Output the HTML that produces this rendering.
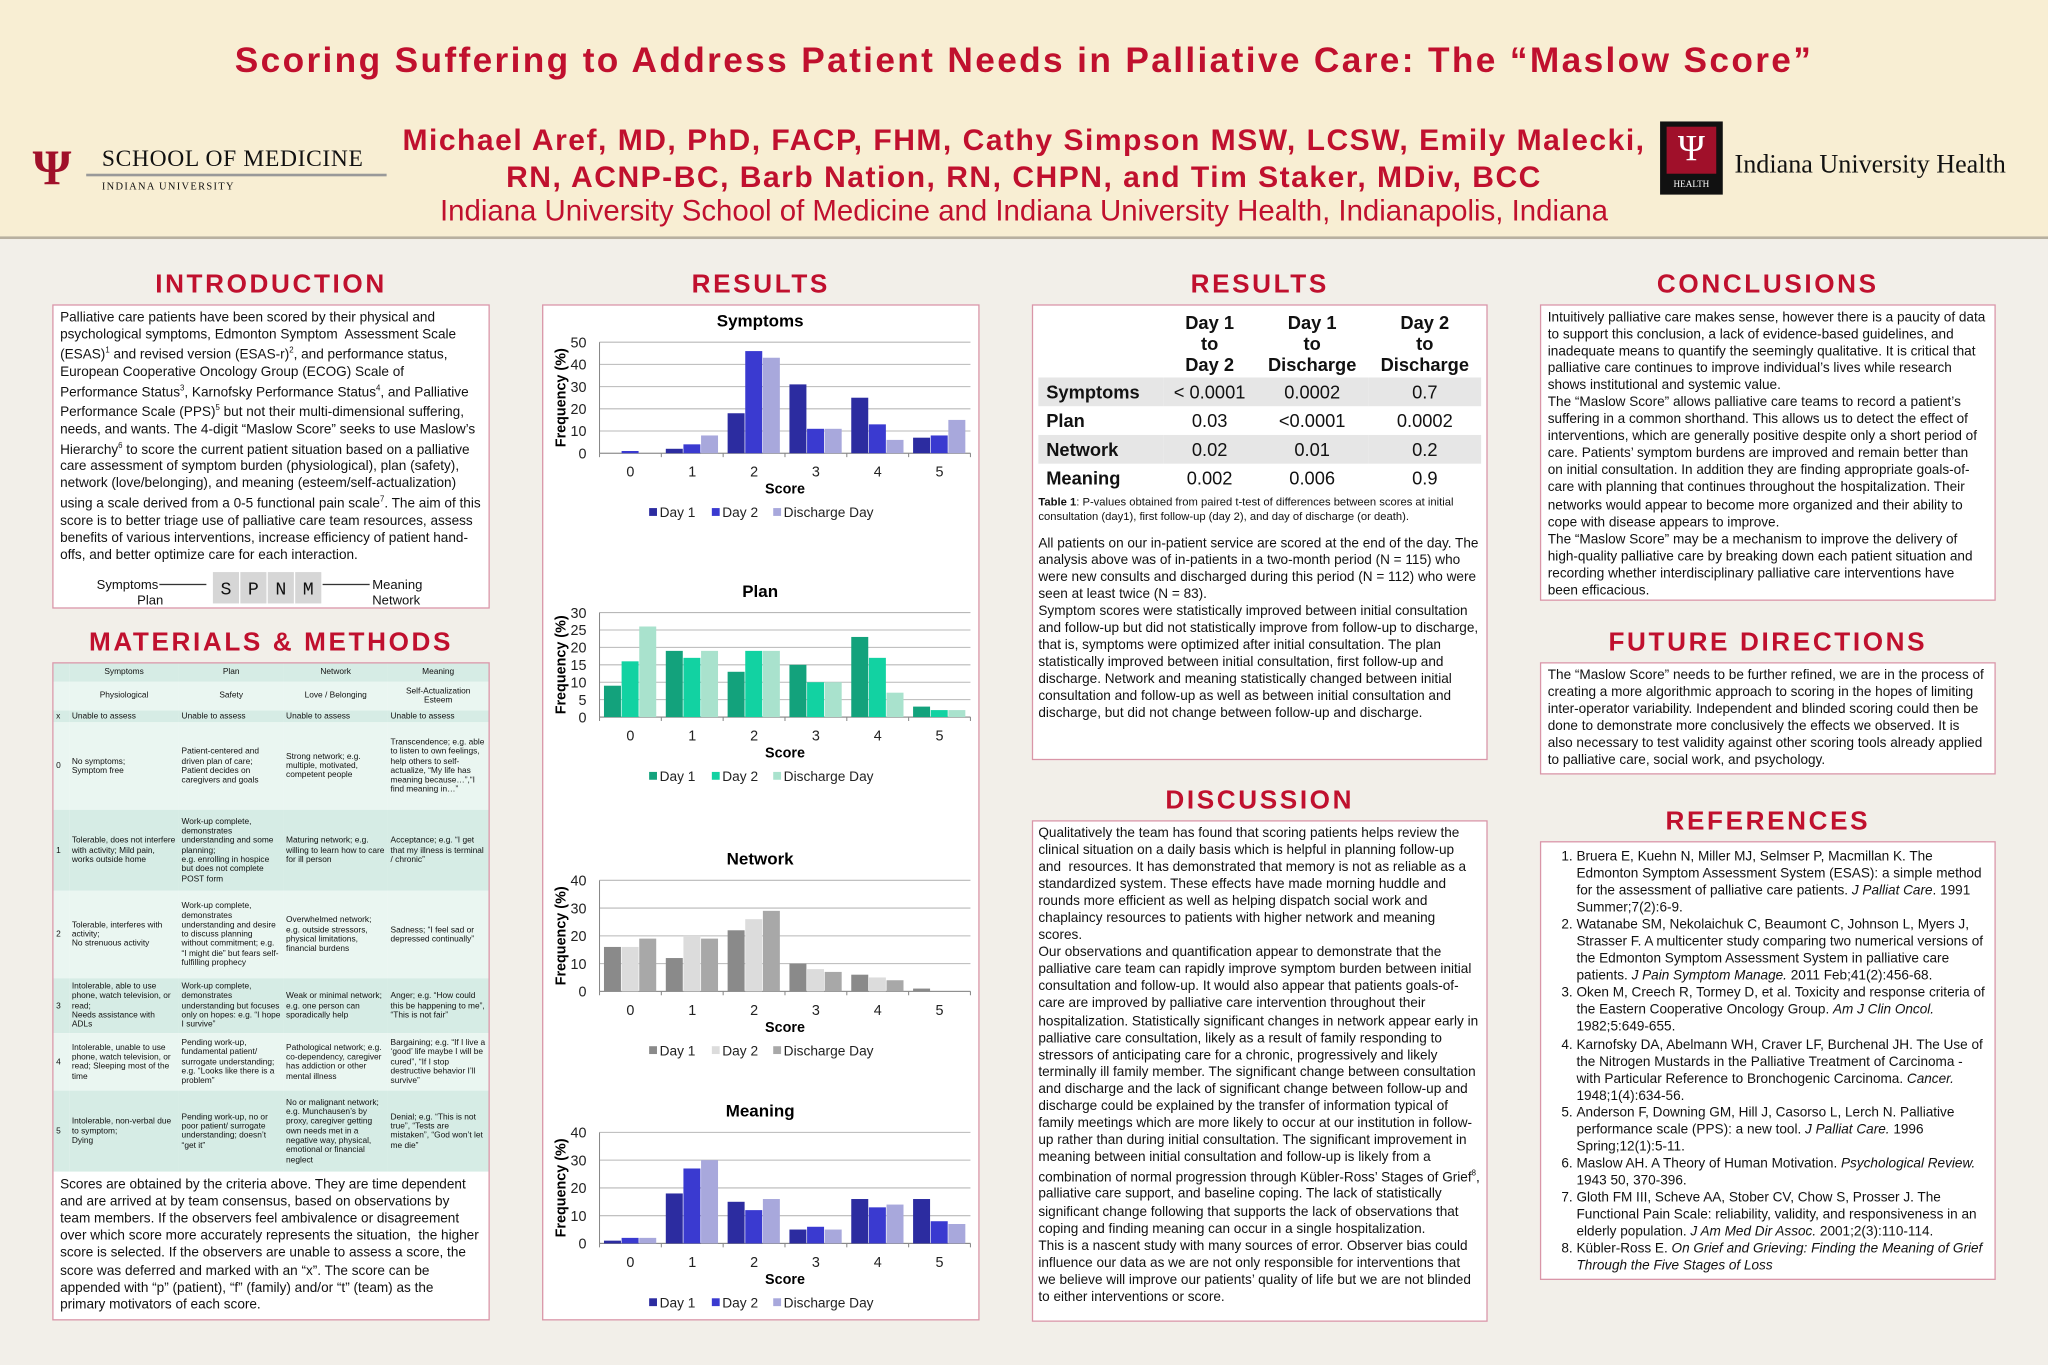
<!DOCTYPE html>
<html><head><meta charset="utf-8">
<style>
html,body{margin:0;padding:0;width:2048px;height:1365px;overflow:hidden;background:#f2efe9;}
#poster{position:absolute;left:0;top:0;width:1568px;height:1045px;transform:scale(1.30612);transform-origin:0 0;font-family:"Liberation Sans",sans-serif;color:#111;}
.abs{position:absolute;}
#header{left:0;top:0;width:1568px;height:181px;background:#f8eed3;border-bottom:2px solid #b8b0a0;}
.title{left:0;width:1568px;text-align:center;color:#c0102e;}
h2{position:absolute;margin:0;color:#c0102e;font-size:20px;letter-spacing:2px;font-weight:bold;text-align:center;}
.box{position:absolute;background:#fff;border:1px solid #d996a8;box-sizing:border-box;}
.txt{font-size:10.4px;line-height:13.05px;padding:3px 6px 3px 5px;}
table.mm{border-collapse:collapse;font-size:6.4px;line-height:7.3px;width:333px;}
table.mm td{padding:1px 2px;vertical-align:middle;}
table.mm tr.a{background:#d6ece5;} table.mm tr.b{background:#eaf6f1;}
table.pv{border-collapse:collapse;font-size:14px;width:339px;}
table.pv td{padding:0 2px;height:22px;text-align:center;}
table.pv td.l{text-align:left;font-weight:bold;padding-left:6px;}
table.pv tr.g{background:#e6e6e6;}
ol{margin:0;padding-left:22px;} li{margin:0;}
</style></head>
<body>
<div id="poster">
<div id="header" class="abs"></div>
<div class="abs title" style="top:31px;font-size:27px;font-weight:bold;letter-spacing:1.8px;">Scoring Suffering to Address Patient Needs in Palliative Care: The “Maslow Score”</div>
<div class="abs title" style="top:93px;font-size:23px;font-weight:bold;line-height:28px;letter-spacing:1.15px;">Michael Aref, MD, PhD, FACP, FHM, Cathy Simpson MSW, LCSW, Emily Malecki,<br>RN, ACNP-BC, Barb Nation, RN, CHPN, and Tim Staker, MDiv, BCC</div>
<div class="abs title" style="top:149px;font-size:22.5px;">Indiana University School of Medicine and Indiana University Health, Indianapolis, Indiana</div>
<!-- left logo -->
<div class="abs" style="left:25px;top:110px;width:275px;height:40px;">
 <div class="abs" style="left:0;top:0;font-family:'Liberation Serif',serif;font-size:38px;font-weight:bold;color:#a0102a;line-height:38px;">Ψ</div>
 <div class="abs" style="left:53px;top:1px;font-family:'Liberation Serif',serif;font-size:18px;letter-spacing:0.5px;">SCHOOL OF MEDICINE</div>
 <div class="abs" style="left:41px;top:23px;width:230px;border-top:2px solid #999;"></div>
 <div class="abs" style="left:53px;top:28px;font-family:'Liberation Serif',serif;font-size:8px;letter-spacing:1px;">INDIANA UNIVERSITY</div>
</div>
<!-- right logo -->
<div class="abs" style="left:1271px;top:93px;width:48px;height:56px;background:#111;">
 <div class="abs" style="left:5px;top:4px;width:38px;height:36px;background:#a0102a;color:#fff;font-family:'Liberation Serif',serif;font-size:28px;text-align:center;line-height:36px;">Ψ</div>
 <div class="abs" style="left:0;top:44px;width:48px;color:#fff;font-size:7px;text-align:center;font-family:'Liberation Serif',serif;">HEALTH</div>
</div>
<div class="abs" style="left:1328px;top:115px;font-family:'Liberation Serif',serif;font-size:20px;">Indiana University Health</div>

<!-- Column 1 -->
<h2 style="left:40px;width:335px;top:207px;">INTRODUCTION</h2>
<div class="box txt" style="left:40px;top:233px;width:335px;height:233px;">Palliative care patients have been scored by their physical and psychological symptoms, Edmonton Symptom&nbsp; Assessment Scale (ESAS)<sup style="font-size:6px">1</sup> and revised version (ESAS-r)<sup style="font-size:6px">2</sup>, and performance status, European Cooperative Oncology Group (ECOG) Scale of Performance Status<sup style="font-size:6px">3</sup>, Karnofsky Performance Status<sup style="font-size:6px">4</sup>, and Palliative Performance Scale (PPS)<sup style="font-size:6px">5</sup> but not their multi-dimensional suffering, needs, and wants. The 4-digit “Maslow Score” seeks to use Maslow’s Hierarchy<sup style="font-size:6px">6</sup> to score the current patient situation based on a palliative care assessment of symptom burden (physiological), plan (safety), network (love/belonging), and meaning (esteem/self-actualization) using a scale derived from a 0-5 functional pain scale<sup style="font-size:6px">7</sup>. The aim of this score is to better triage use of palliative care team resources, assess benefits of various interventions, increase efficiency of patient hand-offs, and better optimize care for each interaction.
 <div class="abs" style="left:0;top:202px;width:333px;height:28px;font-size:10px;">
  <div class="abs" style="left:33px;top:6px;">Symptoms</div><div class="abs" style="left:64px;top:18px;">Plan</div>
  <div class="abs" style="left:244px;top:6px;">Meaning</div><div class="abs" style="left:244px;top:18px;">Network</div>
  <div class="abs" style="left:81px;top:11px;width:36px;border-top:1px solid #333;"></div>
  <div class="abs" style="left:206px;top:11px;width:36px;border-top:1px solid #333;"></div>
  <div class="abs" style="left:122px;top:2px;width:20px;height:24px;background:#d6d6d6;font-size:14px;text-align:center;line-height:28px;font-family:'Liberation Mono',monospace;">S</div>
  <div class="abs" style="left:143px;top:2px;width:20px;height:24px;background:#d6d6d6;font-size:14px;text-align:center;line-height:28px;font-family:'Liberation Mono',monospace;">P</div>
  <div class="abs" style="left:164px;top:2px;width:20px;height:24px;background:#d6d6d6;font-size:14px;text-align:center;line-height:28px;font-family:'Liberation Mono',monospace;">N</div>
  <div class="abs" style="left:185px;top:2px;width:20px;height:24px;background:#d6d6d6;font-size:14px;text-align:center;line-height:28px;font-family:'Liberation Mono',monospace;">M</div>
 </div>
</div>
<h2 style="left:40px;width:335px;top:481px;">MATERIALS &amp; METHODS</h2>
<div class="box" style="left:40px;top:507px;width:335px;height:504px;">
<table class="mm">
<tr class="a" style="height:14px;text-align:center"><td style="width:8px"></td><td style="width:80px">Symptoms</td><td style="width:76px">Plan</td><td style="width:76px">Network</td><td>Meaning</td></tr>
<tr class="b" style="height:22px;text-align:center"><td></td><td>Physiological</td><td>Safety</td><td>Love / Belonging</td><td>Self-Actualization<br>Esteem</td></tr>
<tr class="a" style="height:9px"><td>x</td><td>Unable to assess</td><td>Unable to assess</td><td>Unable to assess</td><td>Unable to assess</td></tr>
<tr class="b" style="height:67px"><td>0</td><td>No symptoms;<br>Symptom free</td><td>Patient-centered and driven plan of care; Patient decides on caregivers and goals</td><td>Strong network; e.g. multiple, motivated, competent people</td><td>Transcendence; e.g. able to listen to own feelings, help others to self-actualize, “My life has meaning because…”,“I find meaning in…”</td></tr>
<tr class="a" style="height:62px"><td>1</td><td>Tolerable, does not interfere with activity; Mild pain, works outside home</td><td>Work-up complete, demonstrates understanding and some planning;<br>e.g. enrolling in hospice but does not complete POST form</td><td>Maturing network; e.g. willing to learn how to care for ill person</td><td>Acceptance; e.g. “I get that my illness is terminal / chronic”</td></tr>
<tr class="b" style="height:67px"><td>2</td><td>Tolerable, interferes with activity;<br>No strenuous activity</td><td>Work-up complete, demonstrates understanding and desire to discuss planning without commitment; e.g. “I might die” but fears self-fulfilling prophecy</td><td>Overwhelmed network; e.g. outside stressors, physical limitations, financial burdens</td><td>Sadness; “I feel sad or depressed continually”</td></tr>
<tr class="a" style="height:42px"><td>3</td><td>Intolerable, able to use phone, watch television, or read;<br>Needs assistance with ADLs</td><td>Work-up complete, demonstrates understanding but focuses only on hopes: e.g. “I hope I survive”</td><td>Weak or minimal network; e.g. one person can sporadically help</td><td>Anger; e.g. “How could this be happening to me”, “This is not fair”</td></tr>
<tr class="b" style="height:44px"><td>4</td><td>Intolerable, unable to use phone, watch television, or read; Sleeping most of the time</td><td>Pending work-up, fundamental patient/ surrogate understanding; e.g. “Looks like there is a problem”</td><td>Pathological network; e.g. co-dependency, caregiver has addiction or other mental illness</td><td>Bargaining; e.g. “If I live a ‘good’ life maybe I will be cured”, “If I stop destructive behavior I’ll survive”</td></tr>
<tr class="a" style="height:62px"><td>5</td><td>Intolerable, non-verbal due to symptom;<br>Dying</td><td>Pending work-up, no or poor patient/ surrogate understanding; doesn’t “get it”</td><td>No or malignant network; e.g. Munchausen’s by proxy, caregiver getting own needs met in a negative way, physical, emotional or financial neglect</td><td>Denial; e.g. “This is not true”, “Tests are mistaken”, “God won’t let me die”</td></tr>
</table>
<div class="txt" style="padding-top:4px;">Scores are obtained by the criteria above. They are time dependent and are arrived at by team consensus, based on observations by team members. If the observers feel ambivalence or disagreement over which score more accurately represents the situation,&nbsp; the higher score is selected. If the observers are unable to assess a score, the score was deferred and marked with an “x”. The score can be appended with “p” (patient), “f” (family) and/or “t” (team) as the primary motivators of each score.</div>
</div>

<!-- Column 2 -->
<h2 style="left:415px;width:335px;top:207px;">RESULTS</h2>
<div class="box" style="left:415px;top:233px;width:335px;height:778px;"></div>
<svg class="abs" id="charts" style="left:0;top:0;" width="1568" height="1045"></svg>

<!-- Column 3 -->
<h2 style="left:790px;width:349px;top:207px;">RESULTS</h2>
<div class="box" style="left:790px;top:233px;width:349px;height:349px;">
<table class="pv" style="margin:3px 4px 0 4px;">
<tr style="font-weight:bold;line-height:16px;"><td style="height:52px"></td><td>Day 1<br>to<br>Day 2</td><td>Day 1<br>to<br>Discharge</td><td>Day 2<br>to<br>Discharge</td></tr>
<tr class="g"><td class="l">Symptoms</td><td>&lt; 0.0001</td><td>0.0002</td><td>0.7</td></tr>
<tr><td class="l">Plan</td><td>0.03</td><td>&lt;0.0001</td><td>0.0002</td></tr>
<tr class="g"><td class="l">Network</td><td>0.02</td><td>0.01</td><td>0.2</td></tr>
<tr><td class="l">Meaning</td><td>0.002</td><td>0.006</td><td>0.9</td></tr>
</table>
<div style="font-size:8.6px;line-height:10.5px;padding:2px 4px 0 4px;"><b>Table 1</b>: P-values obtained from paired t-test of differences between scores at initial consultation (day1), first follow-up (day 2), and day of discharge (or death).</div>
<div class="txt" style="padding:10px 4px 3px 4px;">All patients on our in-patient service are scored at the end of the day. The analysis above was of in-patients in a two-month period (N = 115) who were new consults and discharged during this period (N = 112) who were seen at least twice (N = 83).<br>Symptom scores were statistically improved between initial consultation and follow-up but did not statistically improve from follow-up to discharge, that is, symptoms were optimized after initial consultation. The plan statistically improved between initial consultation, first follow-up and discharge. Network and meaning statistically changed between initial consultation and follow-up as well as between initial consultation and discharge, but did not change between follow-up and discharge.</div>
</div>
<h2 style="left:790px;width:349px;top:602px;">DISCUSSION</h2>
<div class="box txt" style="left:790px;top:628px;width:349px;height:384px;padding:3px 4px;">Qualitatively the team has found that scoring patients helps review the clinical situation on a daily basis which is helpful in planning follow-up and&nbsp; resources. It has demonstrated that memory is not as reliable as a standardized system. These effects have made morning huddle and rounds more efficient as well as helping dispatch social work and chaplaincy resources to patients with higher network and meaning scores.<br>Our observations and quantification appear to demonstrate that the palliative care team can rapidly improve symptom burden between initial consultation and follow-up. It would also appear that patients goals-of-care are improved by palliative care intervention throughout their hospitalization. Statistically significant changes in network appear early in palliative care consultation, likely as a result of family responding to stressors of anticipating care for a chronic, progressively and likely terminally ill family member. The significant change between consultation and discharge and the lack of significant change between follow-up and discharge could be explained by the transfer of information typical of family meetings which are more likely to occur at our institution in follow-up rather than during initial consultation. The significant improvement in meaning between initial consultation and follow-up is likely from a combination of normal progression through Kübler-Ross’ Stages of Grief<sup style="font-size:6px">8</sup>, palliative care support, and baseline coping. The lack of statistically significant change following that supports the lack of observations that coping and finding meaning can occur in a single hospitalization.<br>This is a nascent study with many sources of error. Observer bias could influence our data as we are not only responsible for interventions that we believe will improve our patients’ quality of life but we are not blinded to either interventions or score.</div>

<!-- Column 4 -->
<h2 style="left:1179px;width:349px;top:207px;">CONCLUSIONS</h2>
<div class="box txt" style="left:1179px;top:233px;width:349px;height:227px;">Intuitively palliative care makes sense, however there is a paucity of data to support this conclusion, a lack of evidence-based guidelines, and inadequate means to quantify the seemingly qualitative. It is critical that palliative care continues to improve individual’s lives while research shows institutional and systemic value.<br>The “Maslow Score” allows palliative care teams to record a patient’s suffering in a common shorthand. This allows us to detect the effect of interventions, which are generally positive despite only a short period of care. Patients’ symptom burdens are improved and remain better than on initial consultation. In addition they are finding appropriate goals-of-care with planning that continues throughout the hospitalization. Their networks would appear to become more organized and their ability to cope with disease appears to improve.<br>The “Maslow Score” may be a mechanism to improve the delivery of high-quality palliative care by breaking down each patient situation and recording whether interdisciplinary palliative care interventions have been efficacious.</div>
<h2 style="left:1179px;width:349px;top:481px;">FUTURE DIRECTIONS</h2>
<div class="box txt" style="left:1179px;top:507px;width:349px;height:86px;">The “Maslow Score” needs to be further refined, we are in the process of creating a more algorithmic approach to scoring in the hopes of limiting inter-operator variability. Independent and blinded scoring could then be done to demonstrate more conclusively the effects we observed. It is also necessary to test validity against other scoring tools already applied to palliative care, social work, and psychology.</div>
<h2 style="left:1179px;width:349px;top:618px;">REFERENCES</h2>
<div class="box txt" style="left:1179px;top:644px;width:349px;height:336px;padding-top:5px;">
<ol>
<li>Bruera E, Kuehn N, Miller MJ, Selmser P, Macmillan K. The Edmonton Symptom Assessment System (ESAS): a simple method for the assessment of palliative care patients. <i>J Palliat Care</i>. 1991 Summer;7(2):6-9.</li>
<li>Watanabe SM, Nekolaichuk C, Beaumont C, Johnson L, Myers J, Strasser F. A multicenter study comparing two numerical versions of the Edmonton Symptom Assessment System in palliative care patients. <i>J Pain Symptom Manage.</i> 2011 Feb;41(2):456-68.</li>
<li>Oken M, Creech R, Tormey D, et al. Toxicity and response criteria of the Eastern Cooperative Oncology Group. <i>Am J Clin Oncol.</i> 1982;5:649-655.</li>
<li>Karnofsky DA, Abelmann WH, Craver LF, Burchenal JH. The Use of the Nitrogen Mustards in the Palliative Treatment of Carcinoma - with Particular Reference to Bronchogenic Carcinoma. <i>Cancer.</i> 1948;1(4):634-56.</li>
<li>Anderson F, Downing GM, Hill J, Casorso L, Lerch N. Palliative performance scale (PPS): a new tool. <i>J Palliat Care.</i> 1996 Spring;12(1):5-11.</li>
<li>Maslow AH. A Theory of Human Motivation. <i>Psychological Review.</i> 1943 50, 370-396.</li>
<li>Gloth FM III, Scheve AA, Stober CV, Chow S, Prosser J. The Functional Pain Scale: reliability, validity, and responsiveness in an elderly population. <i>J Am Med Dir Assoc.</i> 2001;2(3):110-114.</li>
<li>Kübler-Ross E. <i>On Grief and Grieving: Finding the Meaning of Grief Through the Five Stages of Loss</i></li>
</ol></div>
</div>

<script>
// ---- chart data ----
const scores = ["0","1","2","3","4","5"];
const seriesNames = ["Day 1","Day 2","Discharge Day"];
const symptomsDay1 = [0,2,18,31,25,7];
const symptomsDay2 = [1,4,46,11,13,8];
const symptomsDischarge = [0,8,43,11,6,15];
const planDay1 = [9,19,13,15,23,3];
const planDay2 = [16,17,19,10,17,2];
const planDischarge = [26,19,19,10,7,2];
const networkDay1 = [16,12,22,10,6,1];
const networkDay2 = [16,20,26,8,5,0];
const networkDischarge = [19,19,29,7,4,0];
const meaningDay1 = [1,18,15,5,16,16];
const meaningDay2 = [2,27,12,6,13,8];
const meaningDischarge = [2,30,16,5,14,7];
const symptomsTicks = [0,10,20,30,40,50];
const planTicks = [0,5,10,15,20,25,30];
const networkTicks = [0,10,20,30,40];
const meaningTicks = [0,10,20,30,40];

const NS = "http://www.w3.org/2000/svg";
const svg = document.getElementById('charts');
function mk(tag, attrs, parent){
  const e = document.createElementNS(NS, tag);
  for (const k in attrs) e.setAttribute(k, attrs[k]);
  (parent||svg).appendChild(e);
  return e;
}
function drawChart(cfg){
  const g = mk('g', {});
  
  
  const x0 = 459, x1 = 743, yTop = cfg.yTop, yBot = cfg.yBot;
  const maxV = cfg.ticks[cfg.ticks.length-1];
  const yS = v => yBot - (v / maxV) * (yBot - yTop);
  const gw = (x1 - x0) / cfg.cats.length;
  const xS = i => x0 + gw * i;
  const t = mk('text', {x: 582, y: yTop - 12, 'text-anchor': 'middle', 'font-size': 13, 'font-weight': 'bold', 'font-family': 'Liberation Sans, sans-serif'}, g);
  t.textContent = cfg.title;
  
  
  cfg.ticks.forEach(v => {
    const y = yS(v);
    const gl = mk('line', {x1: x0, x2: x1, y1: y, y2: y, stroke: '#b8b8b8', 'stroke-width': 0.8}, g);
    
    
    const tl = mk('text', {x: 449, y: y + 4, 'text-anchor': 'end', 'font-size': 11, 'font-family': 'Liberation Sans, sans-serif', fill: '#222'}, g);
    tl.textContent = v;
    
    
  });
  mk('line', {x1: x0, x2: x0, y1: yTop, y2: yBot, stroke: '#888', 'stroke-width': 0.8}, g);
  mk('line', {x1: x0, x2: x1, y1: yBot, y2: yBot, stroke: '#888', 'stroke-width': 0.8}, g);
  const bw = 13.5;
  cfg.series.forEach((vals, s) => {
    vals.forEach((v, i) => {
      const bx = xS(i) + gw/2 - bw*1.5 + s*bw;
      const r = mk('rect', {x: bx, y: yS(v), width: bw - 0.5, height: yBot - yS(v), fill: cfg.colors[s]}, g);
      
      
    });
  });
  cfg.cats.forEach((c, i) => {
    mk('line', {x1: xS(i), x2: xS(i), y1: yBot, y2: yBot + 3, stroke: '#888', 'stroke-width': 0.8}, g);
    const xl = mk('text', {x: xS(i) + gw/2, y: yBot + 18, 'text-anchor': 'middle', 'font-size': 11, 'font-family': 'Liberation Sans, sans-serif', fill: '#222'}, g);
    xl.textContent = c;
    
    
  });
  mk('line', {x1: x1, x2: x1, y1: yBot, y2: yBot + 3, stroke: '#888', 'stroke-width': 0.8}, g);
  const xt = mk('text', {x: 601, y: yBot + 31, 'text-anchor': 'middle', 'font-size': 11, 'font-weight': 'bold', 'font-family': 'Liberation Sans, sans-serif'}, g);
  xt.textContent = 'Score';
  
  
  const yc = (yTop + yBot)/2;
  const yt = mk('text', {x: 433, y: yc, 'text-anchor': 'middle', 'font-size': 11, 'font-weight': 'bold', 'font-family': 'Liberation Sans, sans-serif', transform: 'rotate(-90 433 ' + yc + ')'}, g);
  yt.textContent = 'Frequency (%)';
  
  
  const lx = [497, 545, 592];
  seriesNames.forEach((n, s) => {
    const ly = yBot + 49;
    const sw = mk('rect', {x: lx[s], y: ly - 7, width: 6, height: 6, fill: cfg.colors[s]}, g);
    
    
    const lt = mk('text', {x: lx[s] + 8, y: ly, 'font-size': 10.5, 'font-family': 'Liberation Sans, sans-serif', fill: '#222'}, g);
    lt.textContent = n;
    
    
  });
}
const blues = ['#2c2ca0','#3a3ad0','#a8a8dc'];
drawChart({key:'symptoms', title:'Symptoms', yTop:262, yBot:347, ticks:symptomsTicks, cats:scores, series:[symptomsDay1,symptomsDay2,symptomsDischarge], colors:blues});
drawChart({key:'plan', title:'Plan', yTop:469, yBot:549, ticks:planTicks, cats:scores, series:[planDay1,planDay2,planDischarge], colors:['#13a27c','#12d2a2','#a9e2cd']});
drawChart({key:'network', title:'Network', yTop:674, yBot:759, ticks:networkTicks, cats:scores, series:[networkDay1,networkDay2,networkDischarge], colors:['#8a8a8a','#dcdcdc','#a8a8a8']});
drawChart({key:'meaning', title:'Meaning', yTop:867, yBot:952, ticks:meaningTicks, cats:scores, series:[meaningDay1,meaningDay2,meaningDischarge], colors:blues});
</script>
</body></html>
